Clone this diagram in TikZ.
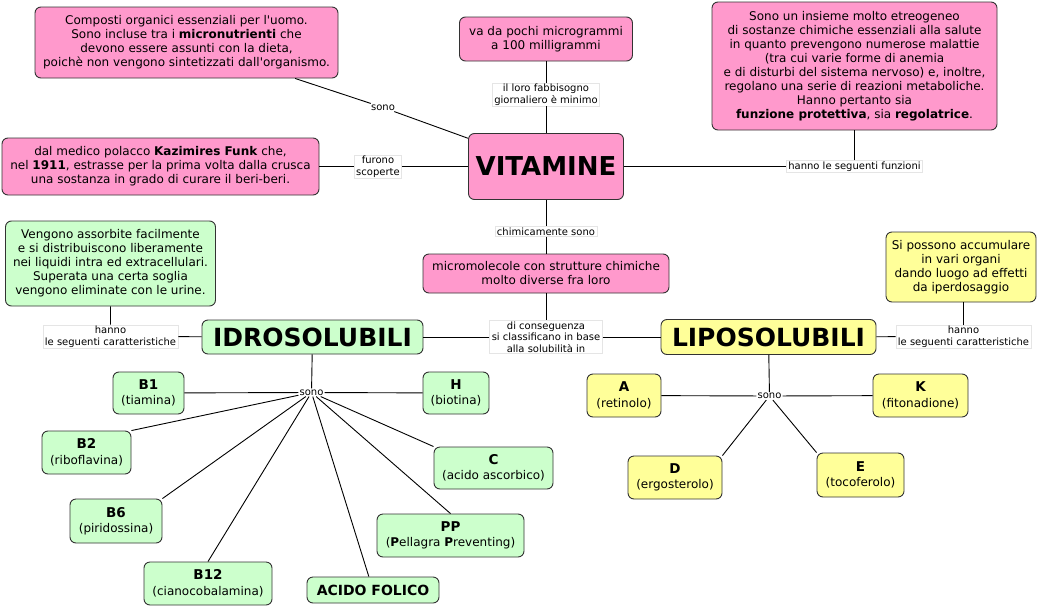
\documentclass[tikz,border=0pt]{standalone}
\usepackage{fontspec}
\setmainfont{DejaVu Sans}
\definecolor{pinkf}{HTML}{FF99CC}
\definecolor{greenf}{HTML}{CCFFCC}
\definecolor{yellowf}{HTML}{FFFF99}
\definecolor{edgec}{HTML}{333333}
\tikzset{
  box/.style={draw=edgec, line width=0.9pt, rounded corners=6pt, inner sep=0pt, align=center, font=\fontsize{12}{14}\selectfont},
  pinkbox/.style={box, fill=pinkf},
  greenbox/.style={box, fill=greenf, font=\fontsize{12}{15.5}\selectfont},
  yellowbox/.style={box, fill=yellowf, font=\fontsize{12}{15.5}\selectfont},
  titlebox/.style={font=\fontsize{25}{28}\selectfont\bfseries},
  lbl/.style={fill=white, draw=black!10, line width=0.6pt, inner xsep=2pt, inner ysep=1pt, align=center, font=\fontsize{10}{11.5}\selectfont},
  sonolbl/.style={fill=white, inner sep=1pt, font=\fontsize{10}{11}\selectfont},
  conn/.style={draw=black, line width=0.9pt}
}
\newcommand{\vtit}[1]{{\fontsize{13.5}{15.5}\selectfont\bfseries #1}}
\newcommand{\ap}{\XeTeXglyph\XeTeXglyphindex "quotesingle"\relax}
\begin{document}
\begin{tikzpicture}[x=1pt,y=-1pt]
\useasboundingbox (0,0) rectangle (1044,608);
% top pink boxes
\node[pinkbox, minimum width=303pt, minimum height=71pt] (comp) at (186.5,42.5)
 {Composti organici essenziali per l\ap uomo.\\Sono incluse tra i \textbf{micronutrienti} che\\devono essere assunti con la dieta,\\poichè non vengono sintetizzati dall\ap organismo.};
\node[pinkbox, minimum width=317pt, minimum height=57pt] (funk) at (160.5,166.5)
 {dal medico polacco \textbf{Kazimires Funk} che,\\nel \textbf{1911}, estrasse per la prima volta dalla crusca\\una sostanza in grado di curare il beri-beri.};
\node[pinkbox, minimum width=173pt, minimum height=44pt] (dose) at (546,39)
 {va da pochi microgrammi\\a 100 milligrammi};
\node[pinkbox, minimum width=285pt, minimum height=128pt] (funz) at (854.5,66)
 {Sono un insieme molto etreogeneo\\di sostanze chimiche essenziali alla salute\\in quanto prevengono numerose malattie\\(tra cui varie forme di anemia\\e di disturbi del sistema nervoso) e, inoltre,\\regolano una serie di reazioni metaboliche.\\Hanno pertanto sia\\\textbf{funzione protettiva}, sia \textbf{regolatrice}.};
\node[pinkbox, titlebox, font=\fontsize{26}{28}\selectfont\bfseries, minimum width=155pt, minimum height=66pt] (vit) at (546,166.5) {VITAMINE};
\node[pinkbox, minimum width=246pt, minimum height=39pt] (micro) at (546,273.5)
 {micromolecole con strutture chimiche\\molto diverse fra loro};
% notes
\node[greenbox, font=\fontsize{12}{14}\selectfont, minimum width=210pt, minimum height=85pt] (idronote) at (110.5,263.5)
 {Vengono assorbite facilmente\\e si distribuiscono liberamente\\nei liquidi intra ed extracellulari.\\Superata una certa soglia\\vengono eliminate con le urine.};
\node[yellowbox, font=\fontsize{12}{14}\selectfont, minimum width=150pt, minimum height=70pt] (liponote) at (961,267)
 {Si possono accumulare\\in vari organi\\dando luogo ad effetti\\da iperdosaggio};
% classes
\node[greenbox, titlebox, minimum width=221pt, minimum height=34pt] (idro) at (312.5,337) {IDROSOLUBILI};
\node[yellowbox, titlebox, minimum width=215pt, minimum height=35pt] (lipo) at (768.5,337) {LIPOSOLUBILI};
% idrosolubili
\node[greenbox, minimum width=71pt, minimum height=42pt] (b1) at (148.5,393) {\vtit{B1}\\(tiamina)};
\node[greenbox, minimum width=89pt, minimum height=43pt] (b2) at (86.5,452.5) {\vtit{B2}\\(riboflavina)};
\node[greenbox, minimum width=92pt, minimum height=44pt] (b6) at (116,521) {\vtit{B6}\\(piridossina)};
\node[greenbox, minimum width=128pt, minimum height=43pt] (b12) at (208,583.5) {\vtit{B12}\\(cianocobalamina)};
\node[greenbox, font=\fontsize{14}{16}\selectfont\bfseries, minimum width=132pt, minimum height=26pt] (fol) at (373,590) {ACIDO FOLICO};
\node[greenbox, minimum width=147pt, minimum height=43pt] (pp) at (450.5,535.5) {\vtit{PP}\\(\textbf{P}ellagra \textbf{P}reventing)};
\node[greenbox, minimum width=119pt, minimum height=42pt] (cc) at (493.5,468) {\vtit{C}\\(acido ascorbico)};
\node[greenbox, minimum width=66pt, minimum height=42pt] (hh) at (456,393) {\vtit{H}\\(biotina)};
% liposolubili
\node[yellowbox, minimum width=74pt, minimum height=43pt] (aa) at (624,395.5) {\vtit{A}\\(retinolo)};
\node[yellowbox, minimum width=95pt, minimum height=43pt] (kk) at (920.5,395.5) {\vtit{K}\\(fitonadione)};
\node[yellowbox, minimum width=94pt, minimum height=43pt] (dd) at (675,477.5) {\vtit{D}\\(ergosterolo)};
\node[yellowbox, minimum width=87pt, minimum height=44pt] (ee) at (860.5,475) {\vtit{E}\\(tocoferolo)};
% labels
\node[sonolbl] (lsono) at (383,107.5) {sono};
\node[lbl] (lfur) at (378,166.5) {furono\\scoperte};
\node[lbl] (lfab) at (546,94.5) {il loro fabbisogno\\giornaliero è minimo};
\node[lbl] (lfunz) at (854.5,166.5) {hanno le seguenti funzioni};
\node[lbl] (lchim) at (546,231.5) {chimicamente sono};
\node[lbl] (lcons) at (546,337) {di conseguenza\\si classificano in base\\alla solubilità in};
\node[lbl] (lcari) at (110.5,336.5) {hanno\\le seguenti caratteristiche};
\node[lbl] (lcarl) at (963.5,336.5) {hanno\\le seguenti caratteristiche};
\node[sonolbl] (lsonoi) at (311.5,392.5) {sono};
\node[sonolbl] (lsonol) at (769.5,396) {sono};
% connectors
\draw[conn] (comp) -- (lsono) -- (vit);
\draw[conn] (funk) -- (lfur) -- (vit);
\draw[conn] (dose) -- (lfab) -- (vit);
\draw[conn] (vit) -- (lfunz) -- (funz);
\draw[conn] (vit) -- (lchim) -- (micro);
\draw[conn] (micro) -- (lcons);
\draw[conn] (lcons) -- (idro);
\draw[conn] (lcons) -- (lipo);
\draw[conn] (idronote) -- (lcari) -- (idro);
\draw[conn] (lipo) -- (lcarl);
\draw[conn] (lcarl) -- (lcarl |- liponote.south);
\draw[conn] (idro) -- (lsonoi);
\draw[conn] (lsonoi) -- (b1);
\draw[conn] (lsonoi) -- (b2.north east);
\draw[conn] (lsonoi) -- (b6.north east);
\draw[conn] (lsonoi) -- (b12.north);
\draw[conn] (lsonoi) -- (fol);
\draw[conn] (lsonoi) -- (pp.north);
\draw[conn] (lsonoi) -- (cc.north west);
\draw[conn] (lsonoi) -- (hh);
\draw[conn] (lipo) -- (lsonol);
\draw[conn] (lsonol) -- (aa);
\draw[conn] (lsonol) -- (kk);
\draw[conn] (lsonol) -- (dd.north east);
\draw[conn] (lsonol) -- (ee.north west);
\end{tikzpicture}
\end{document}
